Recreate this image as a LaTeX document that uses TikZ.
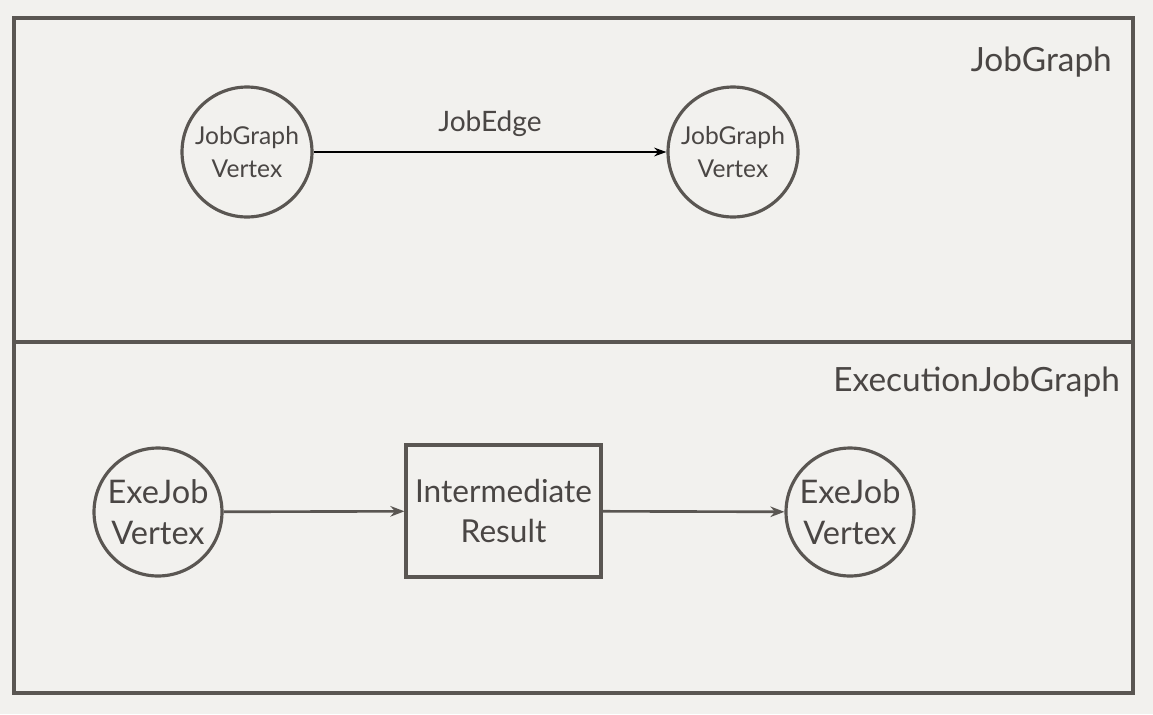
\documentclass[tikz,border=0pt]{standalone}
\usepackage{fontspec}
\setmainfont{Lato}
\usetikzlibrary{arrows.meta}
\definecolor{bg}{HTML}{F2F1EE}
\definecolor{ln}{HTML}{5A5652}
\definecolor{tx}{HTML}{4A4644}
\tikzset{
  panel/.style={draw=ln,line width=1.8pt},
  vert/.style={circle,draw=ln,line width=1.8pt,minimum size=#1,inner sep=0pt,align=center,text=tx},
  res/.style={draw=ln,line width=1.8pt,minimum width=3.9cm,minimum height=2.64cm,align=center,text=tx,font=\fontsize{18}{23}\selectfont},
  gar/.style={-{Stealth[length=8pt,width=6pt]},draw=ln,line width=1.5pt},
  title/.style={text=tx,anchor=east,font=\fontsize{19}{22}\selectfont}
}
\begin{document}
\begin{tikzpicture}[x=0.02cm,y=-0.02cm]
\fill[bg] (0,0) rectangle (1153,714);
\useasboundingbox (0,0) rectangle (1153,714);
\draw[panel] (14,18) rectangle (1133,342);
\draw[panel] (14,342) rectangle (1133,693);
\node[title] (t1) at (1118,62) {JobGraph};
\node[title] (t2) at (1126,382) {ExecutionJobGraph};
\node[vert=2.6cm,font=\fontsize{14}{19}\selectfont] (a) at (247,152) {JobGraph\\Vertex};
\node[vert=2.6cm,font=\fontsize{14}{19}\selectfont] (b) at (733,152) {JobGraph\\Vertex};
\draw[-{Stealth[length=7pt,width=5pt]},line width=1pt,black] (a) -- node[above=5pt,text=tx,font=\fontsize{16}{18}\selectfont]{JobEdge} (b);
\node[vert=2.56cm,font=\fontsize{18.5}{23}\selectfont] (c) at (158,512) {ExeJob\\Vertex};
\node[res] (r) at (503.5,511) {Intermediate\\Result};
\node[vert=2.56cm,font=\fontsize{18.5}{23}\selectfont] (d) at (850,512) {ExeJob\\Vertex};
\draw[gar] (c) -- (r);
\draw[gar] (r) -- (d);
\end{tikzpicture}
\end{document}
